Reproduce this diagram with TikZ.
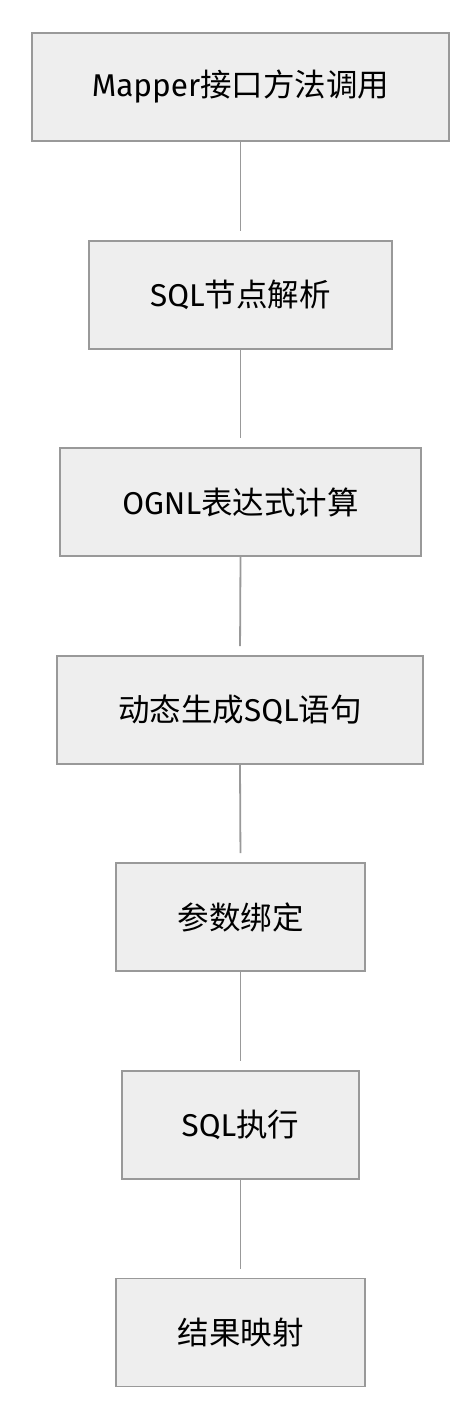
\documentclass[tikz,border=0pt]{standalone}
\usepackage{fontspec}
\setmainfont{Noto Sans CJK SC}
\newfontfamily\lat{Fira Sans}
\definecolor{boxfill}{HTML}{EEEEEE}
\definecolor{boxline}{HTML}{999999}
\begin{document}
\begin{tikzpicture}[x=1pt,y=1pt,
  stepbox/.style={draw=boxline, fill=boxfill, line width=1.8pt, minimum height=108pt, inner sep=0pt, font=\fontsize{31.5}{36}\selectfont},
  conn/.style={draw=boxline, line width=1.8pt, shorten >=9pt}]
\useasboundingbox (0,0) rectangle (465,-1404);
\node[stepbox, minimum width=417pt] (b1) at (240.5,-87) {{\lat Mapper}接口方法调用};
\node[stepbox, minimum width=303pt] (b2) at (240.5,-295) {{\lat SQL}节点解析};
\node[stepbox, minimum width=361pt] (b3) at (240.5,-502) {{\lat OGNL}表达式计算};
\node[stepbox, minimum width=366pt] (b4) at (240,-710) {动态生成{\lat SQL}语句};
\node[stepbox, minimum width=249pt] (b5) at (240.5,-917) {参数绑定};
\node[stepbox, minimum width=237pt] (b6) at (240.5,-1125) {{\lat SQL}执行};
\node[stepbox, minimum width=249pt] (b7) at (240.5,-1332.5) {结果映射};
\draw[conn] (b1.south) -- (b2.north);
\draw[conn] (b2.south) -- (b3.north);
\draw[conn] (b3.south) -- (b4.north);
\draw[conn] (b4.south) -- (b5.north);
\draw[conn] (b5.south) -- (b6.north);
\draw[conn] (b6.south) -- (b7.north);
\end{tikzpicture}
\end{document}
